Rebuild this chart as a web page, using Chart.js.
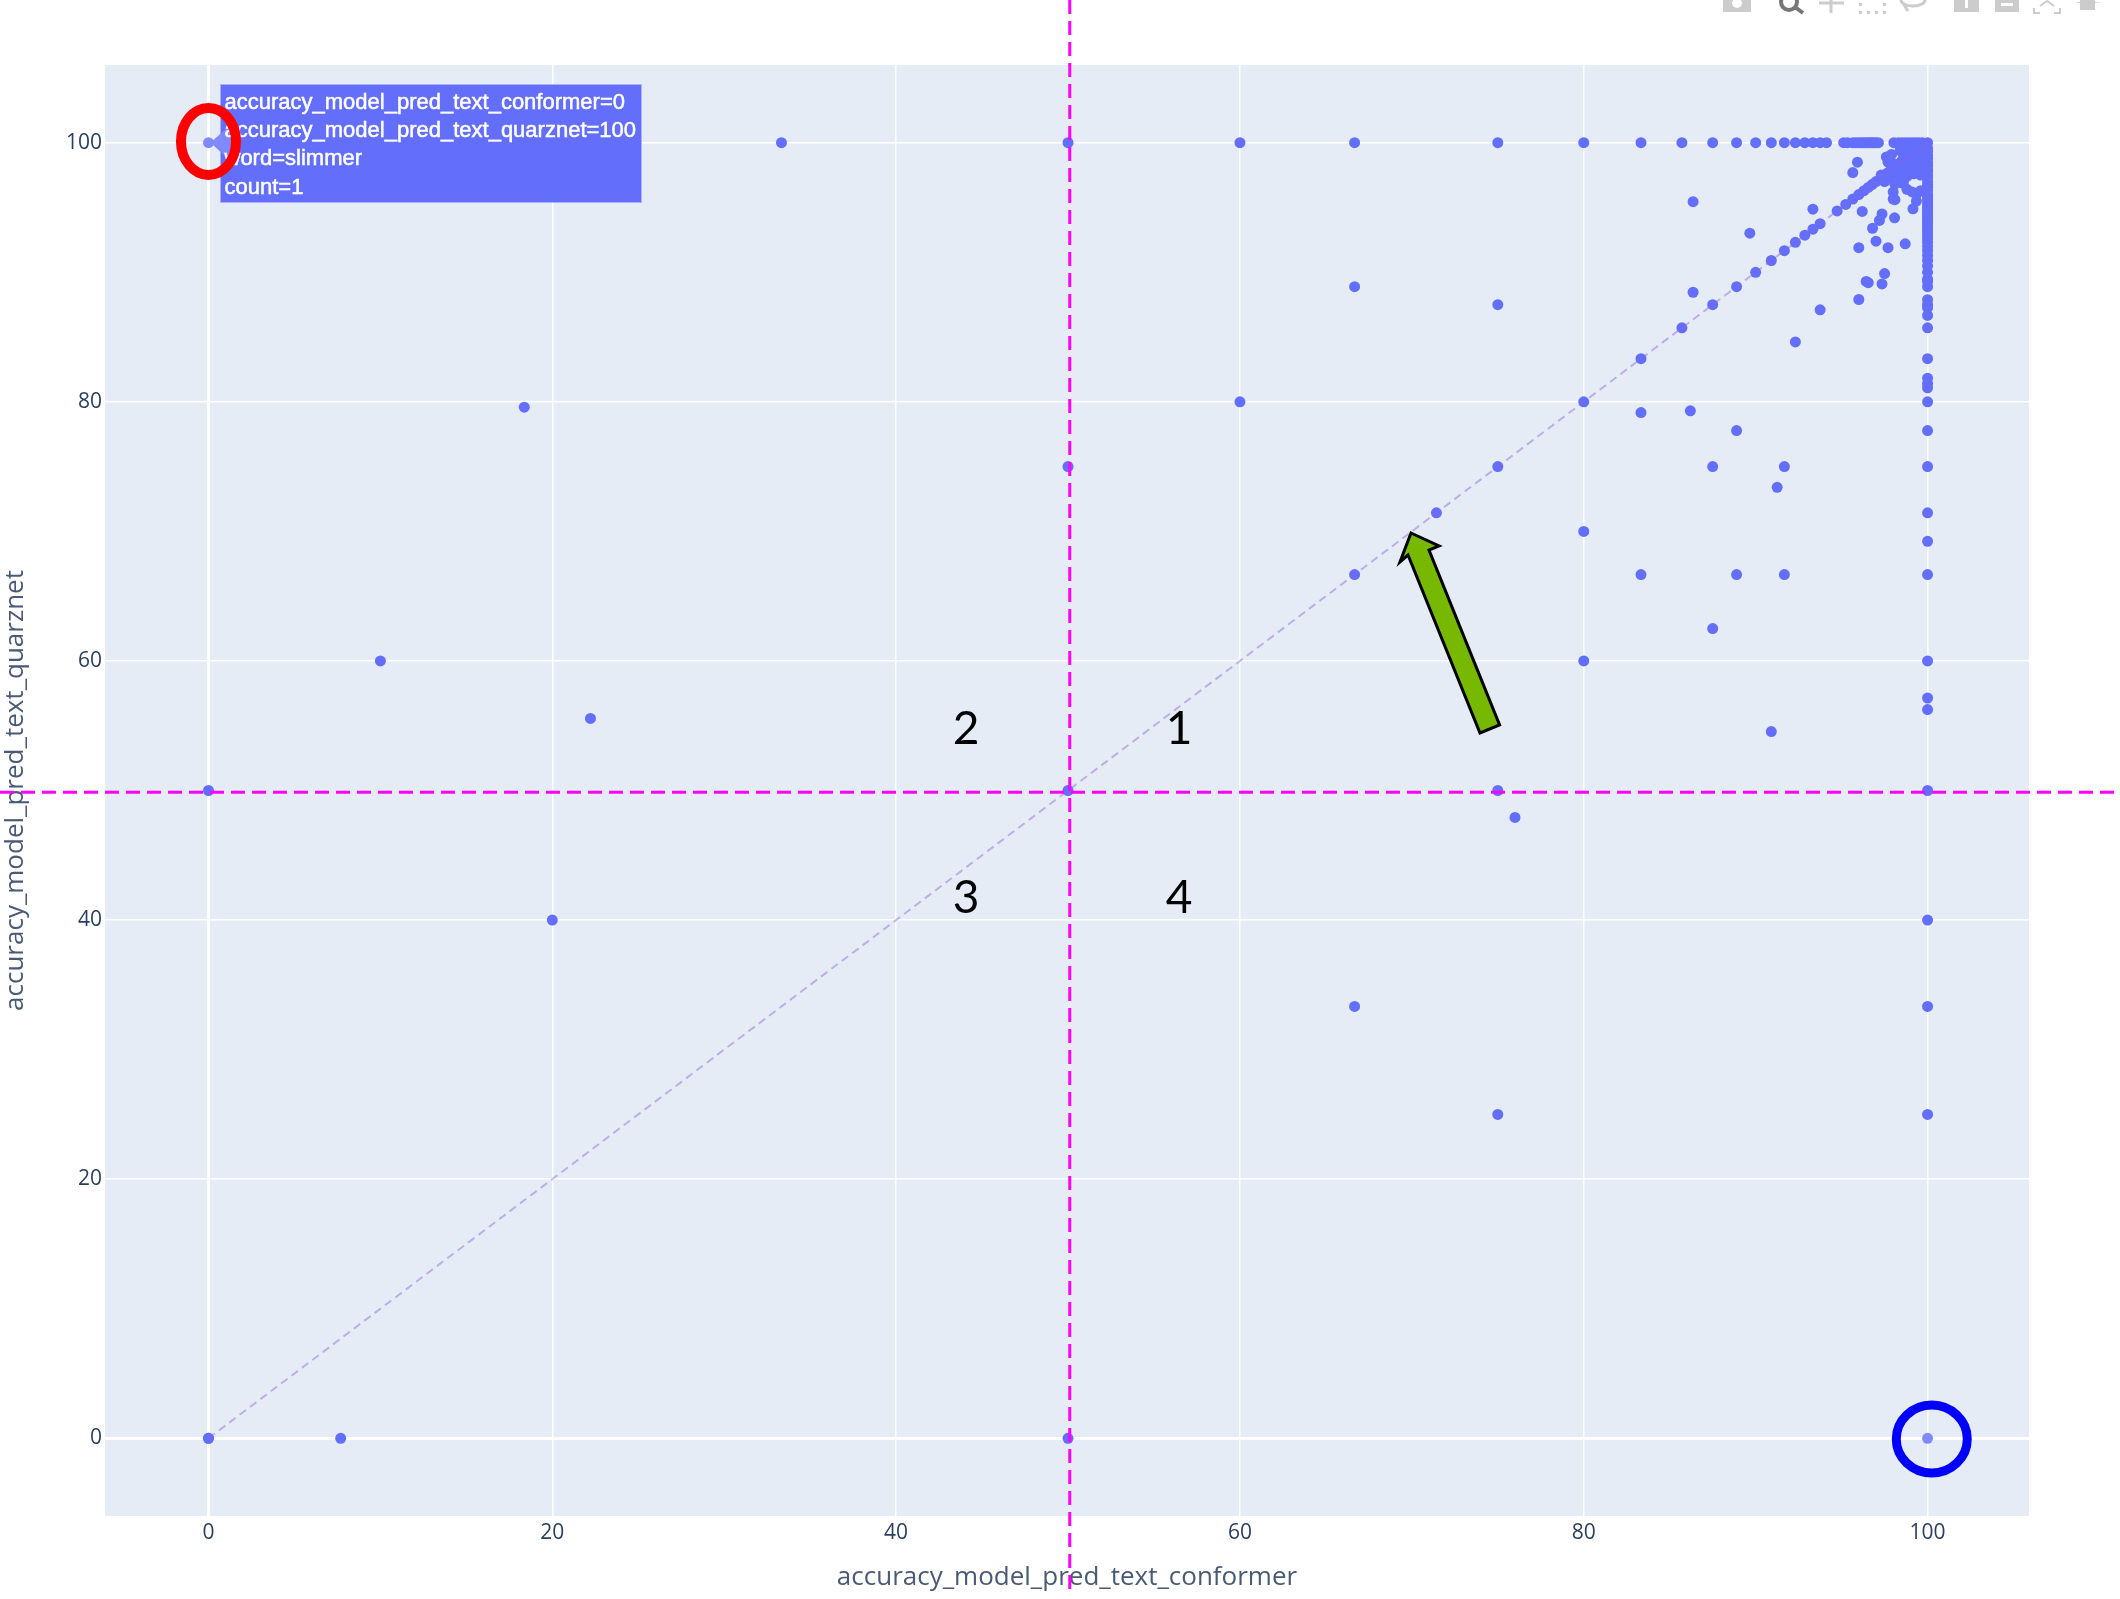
<!DOCTYPE html>
<html>
<head>
<meta charset="utf-8">
<title>accuracy scatter</title>
<style>
  html, body { margin: 0; padding: 0; background: #fff; }
  canvas { display: block; }
</style>
<script src="https://cdn.jsdelivr.net/npm/chart.js@4"></script>
</head>
<body>
<canvas id="scatter" width="2120" height="1599"></canvas>
<script>
// Points
// top row, all at quarznet = 100
const topRowX = [33.33, 50, 60, 66.67, 75, 80, 83.33, 85.71, 87.5, 88.89, 90, 90.91, 91.67, 92.31, 92.86, 93.33, 93.75, 94.12,
    95.12, 95.35, 95.65, 95.83, 96, 96.15, 96.3, 96.43, 96.55, 96.67, 96.77, 96.88, 97, 97.14,
    98.04, 98.3, 98.5, 98.7, 98.9, 99.1, 99.3, 99.5, 99.7, 100];
// right column, all at conformer = 100
const rightColY = [25, 33.33, 40, 50, 56.25, 57.14, 60, 66.67, 69.23, 71.43, 75, 77.78, 80, 81.08, 81.4, 81.82, 83.33, 85.71, 86.67,
    87.27, 87.5, 87.88, 88.89, 89.29, 89.47, 90, 90.48, 90.91, 91.3, 91.67, 92, 92.31, 92.59, 92.86, 93.1, 93.33, 93.55, 93.75,
    93.94, 94.12, 94.29, 94.44, 94.59, 94.74, 94.87, 95, 95.24, 95.45, 95.65, 95.83, 96, 96.3, 96.55, 96.77, 97, 97.3, 97.5,
    97.8, 98, 98.25, 98.5, 98.8, 99, 99.3, 99.6];
// on the diagonal, both models equal
const diagonalVals = [0, 50, 66.67, 71.43, 75, 80, 83.33, 85.71, 87.5, 88.89, 90, 90.91, 91.67, 92.31, 92.86, 93.33, 93.75,
    94.74, 95.24, 95.65, 96, 96.3, 96.55, 96.77, 97, 97.3, 97.5, 97.67, 97.83, 98, 98.21, 98.4, 98.6, 98.81, 99, 99.2, 99.4, 99.6];
// everything else
const otherX = [0, 0, 7.69, 50, 10, 18.37, 20, 22.22, 50, 60, 66.67, 66.67, 75, 75, 75, 76, 80, 80,
    83.33, 83.33, 86.2, 86.36, 86.36, 87.5, 87.5, 88.89, 88.89, 89.66, 90.91, 91.25, 91.67, 91.67, 92.31, 93.33, 93.75,
    95.65, 95.92, 96, 96, 96.2, 96.43, 96.55, 96.8, 97, 97.2, 97.35, 97.35, 97.5, 97.7, 98, 98.08, 98.7, 99.15, 99.35];
const otherY = [50, 0, 0, 0, 60, 79.59, 40, 55.56, 75, 80, 88.89, 33.33, 87.5, 25, 50, 47.92, 70, 60,
    79.17, 66.67, 79.31, 95.45, 88.46, 75, 62.5, 77.78, 66.67, 93.02, 54.55, 73.4, 75, 66.67, 84.62, 94.87, 87.1,
    97.7, 98.5, 91.9, 87.9, 94.7, 89.29, 89.2, 93.4, 92.4, 94, 94.5, 89.1, 89.9, 91.9, 95.65, 94.2, 92.2, 94.9, 95.5];
// dense block up in the corner
const cornerX = [97.6, 97.7, 97.9, 98, 97.3, 97.5, 97.8, 98.1, 98.2, 98, 98.1, 98.4, 98.4, 98.5, 98.5, 98.6, 98.7, 98.7, 98.8,
    98.9, 98.9, 99, 99, 99.1, 99.1, 99.2, 99.2, 99.3, 99.3, 99.4, 99.4, 99.5, 99.5, 99.6, 99.6, 99.7, 99.7, 99.8, 99.8, 99.9, 99.9, 98.8, 99.1, 99.4, 99.6,
    98.6, 98.9, 99.25, 99.55, 99.85, 98.55, 98.85, 99.15, 99.45, 99.75, 98.6, 98.95, 99.25, 99.55, 99.85, 98.5, 98.8, 99.1, 99.45, 99.75, 98.45, 98.75, 99.05, 99.35, 99.65, 99.9, 98.4, 98.7, 98.3, 98.6];
const cornerY = [98.9, 98.5, 99.1, 98.4, 97.5, 97, 97.3, 96.8, 97.6, 96.2, 95.6, 99.4, 97.8, 98.6, 96.9, 97.6, 99.6, 98.2, 97.4,
    99.1, 97.9, 98.6, 97.7, 99.5, 98.1, 98.9, 97.6, 99.3, 98.4, 99.7, 97.8, 98.8, 98.1, 99.4, 97.5, 98.7, 97.9, 99.2, 98.2, 98.6, 97.7, 96.4, 96.2, 96.1, 96.3,
    99.75, 99.7, 99.75, 99.7, 99.75, 99.25, 99.3, 99.25, 99.3, 99.25, 98.85, 98.9, 98.85, 98.9, 98.85, 98.45, 98.5, 98.45, 98.5, 98.45, 98, 98, 98.05, 98, 98.05, 98, 97.45, 97.5, 97.15, 97];
// the two the author circled, hover fades them a little
const circledX = [0, 100];
const circledY = [100, 0];

// Axes and text
const xTicks = [0, 20, 40, 60, 80, 100];
const yTicks = [0, 20, 40, 60, 80, 100];
const xTitle = 'accuracy_model_pred_text_conformer';
const yTitle = 'accuracy_model_pred_text_quarznet';
const hoverLines = ['accuracy_model_pred_text_conformer=0', 'accuracy_model_pred_text_quarznet=100', 'word=slimmer', 'count=1'];
const splitX = 50.1;
const splitY = 49.86;

const BLUE = '#636efa';
const INK = '#2a3f5f';

function toPoints(xs, ys) {
    return xs.map((x, i) => ({ x: x, y: ys[i] }));
}

const mainPoints = [
    ...topRowX.map(x => ({ x: x, y: 100 })),
    ...rightColY.map(y => ({ x: 100, y: y })),
    ...diagonalVals.map(v => ({ x: v, y: v })),
    ...toPoints(otherX, otherY),
    ...toPoints(cornerX, cornerY)
];

// little grey toolbar, mostly cut off by the top of the screenshot
function drawModebar(ctx) {
    ctx.save();
    ctx.fillStyle = '#cccccc';
    ctx.strokeStyle = '#cccccc';
    ctx.lineWidth = 3;
    // camera
    ctx.fillRect(1723, 0, 28, 12);
    ctx.fillStyle = '#fff';
    ctx.beginPath();
    ctx.arc(1737, 3, 5, 0, Math.PI * 2);
    ctx.fill();
    ctx.fillStyle = '#cccccc';
    // zoom, the active one
    ctx.strokeStyle = '#777777';
    ctx.lineWidth = 4;
    ctx.beginPath();
    ctx.arc(1789, 2, 8, 0, Math.PI * 2);
    ctx.moveTo(1795, 7);
    ctx.lineTo(1803, 13);
    ctx.stroke();
    ctx.strokeStyle = '#cccccc';
    ctx.lineWidth = 3;
    // pan
    ctx.beginPath();
    ctx.moveTo(1819, 3);
    ctx.lineTo(1844, 3);
    ctx.moveTo(1831, 0);
    ctx.lineTo(1831, 13);
    ctx.stroke();
    // box select, only the dots are left
    for (let i = 0; i < 4; i++) ctx.fillRect(1859 + i * 8, 11, 3, 3);
    ctx.fillRect(1883, 3, 3, 3);
    ctx.fillRect(1859, 3, 3, 3);
    // lasso
    ctx.beginPath();
    ctx.ellipse(1913, 0, 12, 6, 0, 0, Math.PI);
    ctx.moveTo(1904, 5);
    ctx.lineTo(1908, 11);
    ctx.stroke();
    // zoom in, zoom out
    ctx.fillRect(1954, 0, 25, 12);
    ctx.fillRect(1995, 0, 24, 12);
    ctx.fillStyle = '#fff';
    ctx.fillRect(1965, 0, 3, 8);
    ctx.fillRect(2001, 3, 12, 3);
    ctx.fillStyle = '#cccccc';
    // autoscale corners
    ctx.lineWidth = 2;
    ctx.beginPath();
    ctx.moveTo(2034, 8);
    ctx.lineTo(2034, 13);
    ctx.lineTo(2040, 13);
    ctx.moveTo(2060, 8);
    ctx.lineTo(2060, 13);
    ctx.lineTo(2054, 13);
    ctx.moveTo(2040, 6);
    ctx.lineTo(2047, 1);
    ctx.lineTo(2054, 6);
    ctx.stroke();
    // home
    ctx.fillRect(2080, 0, 15, 10);
    ctx.beginPath();
    ctx.moveTo(2075, 3);
    ctx.lineTo(2087, 0);
    ctx.lineTo(2100, 3);
    ctx.fill();
    ctx.restore();
}

// hover box as it was frozen in the screenshot
function drawHoverBox(ctx, anchorX, anchorY) {
    ctx.save();
    ctx.fillStyle = BLUE;
    ctx.fillRect(220, 84, 421, 119);
    ctx.strokeStyle = '#a9b0fc';
    ctx.lineWidth = 1;
    ctx.strokeRect(220.5, 84.5, 421, 118);
    ctx.fillStyle = '#7f8bfc';
    ctx.beginPath();
    ctx.moveTo(anchorX + 2, anchorY);
    ctx.lineTo(anchorX + 24, anchorY - 20);
    ctx.lineTo(anchorX + 24, anchorY + 20);
    ctx.closePath();
    ctx.fill();
    ctx.fillStyle = '#ffffff';
    ctx.strokeStyle = '#ffffff';
    ctx.lineWidth = 0.5;
    ctx.font = '22px "Liberation Sans"';
    ctx.textBaseline = 'middle';
    ctx.textAlign = 'left';
    hoverLines.forEach((line, i) => {
        ctx.fillText(line, 224.5, 102.5 + i * 28.4);
        ctx.strokeText(line, 224.5, 102.5 + i * 28.4);
    });
    ctx.restore();
}

// green arrow the author pasted on top
function drawArrow(ctx) {
    const outline = [[1411, 533], [1439, 546], [1429, 550], [1499.6, 725], [1480, 733], [1408, 555], [1400, 562]];
    ctx.save();
    ctx.beginPath();
    outline.forEach((p, i) => i ? ctx.lineTo(p[0], p[1]) : ctx.moveTo(p[0], p[1]));
    ctx.closePath();
    ctx.fillStyle = '#76b900';
    ctx.fill();
    ctx.strokeStyle = '#000';
    ctx.lineWidth = 3;
    ctx.stroke();
    ctx.restore();
}

const plotBackground = {
    id: 'plotBackground',
    beforeDraw(chart) {
        const a = chart.chartArea;
        chart.ctx.fillStyle = '#e5ecf6';
        chart.ctx.fillRect(a.left, a.top, a.width, a.height);
    }
};

const pastedMarks = {
    id: 'pastedMarks',
    afterDraw(chart) {
        const ctx = chart.ctx;
        const xs = chart.scales.x;
        const ys = chart.scales.y;

        drawModebar(ctx);
        drawHoverBox(ctx, xs.getPixelForValue(0), ys.getPixelForValue(100));

        // quadrant split, runs past the plot to the edges of the image
        ctx.save();
        ctx.strokeStyle = '#ff00ff';
        ctx.lineWidth = 3;
        ctx.setLineDash([14, 7]);
        ctx.beginPath();
        ctx.moveTo(xs.getPixelForValue(splitX), 0);
        ctx.lineTo(xs.getPixelForValue(splitX), 1593);
        ctx.moveTo(0, ys.getPixelForValue(splitY));
        ctx.lineTo(2120, ys.getPixelForValue(splitY));
        ctx.stroke();
        ctx.restore();

        // circles
        ctx.save();
        ctx.lineWidth = 10;
        ctx.strokeStyle = '#ff0000';
        ctx.beginPath();
        ctx.ellipse(xs.getPixelForValue(0), ys.getPixelForValue(100) - 1.3, 27.5, 33.5, 0, 0, Math.PI * 2);
        ctx.stroke();
        ctx.lineWidth = 9;
        ctx.strokeStyle = '#0000ff';
        ctx.beginPath();
        ctx.ellipse(xs.getPixelForValue(100) + 4.2, ys.getPixelForValue(0) + 0.7, 35.5, 34, 0, 0, Math.PI * 2);
        ctx.stroke();
        ctx.restore();

        drawArrow(ctx);

        // quadrant numbers
        ctx.save();
        ctx.fillStyle = '#000';
        ctx.font = '46px Lato';
        ctx.textAlign = 'center';
        ctx.textBaseline = 'middle';
        ctx.fillText('1', 1179, 729);
        ctx.fillText('2', 966, 729);
        ctx.fillText('3', 966, 898);
        ctx.fillText('4', 1179, 898);
        ctx.restore();
    }
};

const gridStyle = {
    color: '#ffffff',
    lineWidth: c => (c.tick && c.tick.value === 0 ? 3 : 1.5),
    drawTicks: false
};

new Chart(document.getElementById('scatter').getContext('2d'), {
    type: 'scatter',
    data: {
        datasets: [
            {
                type: 'line',
                label: 'diagonal',
                data: [{ x: 0, y: 0 }, { x: 100, y: 100 }],
                borderColor: 'rgba(140, 100, 220, 0.45)',
                borderWidth: 2,
                borderDash: [8, 5],
                pointRadius: 0,
                order: 0
            },
            {
                label: 'words',
                data: mainPoints,
                backgroundColor: BLUE,
                borderWidth: 0,
                pointRadius: 5.5,
                order: 1
            },
            {
                label: 'circled',
                data: toPoints(circledX, circledY),
                backgroundColor: '#7f8bfc',
                borderWidth: 0,
                pointRadius: 5.5,
                order: 2
            }
        ]
    },
    options: {
        responsive: false,
        animation: false,
        events: [],
        layout: { padding: { top: 65, right: 91, bottom: 0, left: 0 } },
        plugins: {
            legend: { display: false },
            tooltip: { enabled: false }
        },
        scales: {
            x: {
                type: 'linear',
                min: -6.02,
                max: 105.9,
                afterBuildTicks: scale => { scale.ticks = xTicks.map(v => ({ value: v })); },
                afterFit: scale => { scale.height = 83; },
                grid: gridStyle,
                border: { display: false },
                ticks: { color: INK, font: { family: '"Open Sans"', size: 21 }, padding: 4, maxRotation: 0 },
                title: {
                    display: true,
                    text: xTitle,
                    color: '#4a5a75',
                    font: { family: '"Open Sans"', size: 26 },
                    padding: { top: 0, bottom: 6 }
                }
            },
            y: {
                type: 'linear',
                min: -6,
                max: 106,
                afterBuildTicks: scale => { scale.ticks = yTicks.map(v => ({ value: v })); },
                afterFit: scale => { scale.width = 105; },
                grid: gridStyle,
                border: { display: false },
                ticks: { color: INK, font: { family: '"Open Sans"', size: 21 }, padding: 3 },
                title: {
                    display: true,
                    text: yTitle,
                    color: '#4a5a75',
                    font: { family: '"Open Sans"', size: 26 },
                    padding: { top: 0, bottom: 0 }
                }
            }
        }
    },
    plugins: [plotBackground, pastedMarks]
});
</script>
</body>
</html>
